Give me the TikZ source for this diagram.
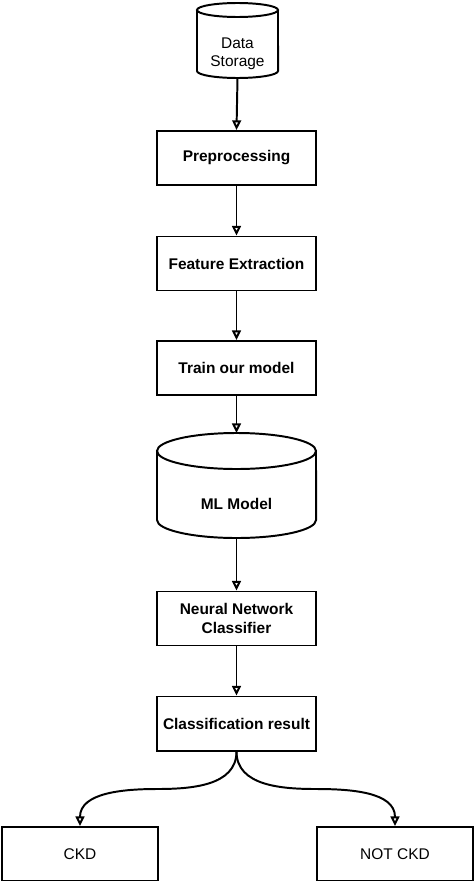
\documentclass[tikz,border=0pt]{standalone}
\usepackage{fontspec}
\setmainfont{Liberation Sans}
\usepackage{tikz}
\usetikzlibrary{arrows.meta,calc,positioning}
\tikzset{
  stp/.style={rectangle,draw=black,line width=1.4pt,minimum width=3.975cm,minimum height=1.35cm,
    inner sep=1pt,align=center,font=\fontsize{11}{13.5}\selectfont\bfseries},
  res/.style={rectangle,draw=black,line width=1.4pt,minimum width=3.9cm,minimum height=1.35cm,
    inner sep=1pt,align=center,font=\fontsize{11}{13.5}\selectfont},
  % a store is drawn by hand round an empty node that carries the label
  sto/.style={rectangle,draw=none,inner sep=0pt,align=center},
  cyl/.style={draw=black,line width=1.4pt},
  flw/.style={-{Triangle[open,length=2.4mm,width=2.2mm]},draw=black,line width=1.4pt},
}

\begin{document}
\begin{tikzpicture}[x=0.025cm,y=-0.025cm]
\useasboundingbox (0,0) rectangle (474,881);
% ============================= data storage
\node[sto,minimum width=2.025cm,minimum height=1.2cm,font=\fontsize{11}{12.8}\selectfont]
  (ds) at (237.5,54) {Data\\ Storage};
\draw[cyl] (237.5,10) ellipse[x radius=1.0125cm,y radius=0.175cm];
\draw[cyl] (197,10) -- (197,71) arc[start angle=180,end angle=360,x radius=1.0125cm,y radius=0.175cm]
  -- (278,10);
% ============================= steps
\node[stp] (pre) at (236.5,158) {Preprocessing};
\node[stp] (fe) at (236.5,263.5) {Feature Extraction};
\node[stp] (trn) at (236.5,368) {Train our model};
% ============================= ml model
\coordinate (mltop) at (236.5,433);
\node[sto,minimum width=3.975cm,minimum height=1.725cm,font=\fontsize{11}{13.5}\selectfont\bfseries]
  (ml) at (236.5,503.5) {ML Model};
\draw[cyl] (236.5,451) ellipse[x radius=1.9875cm,y radius=0.45cm];
\draw[cyl] (157,451) -- (157,520) arc[start angle=180,end angle=360,x radius=1.9875cm,y radius=0.45cm]
  -- (316,451);
\node[stp] (nn) at (236.5,618.5) {Neural Network\\ Classifier};
\node[stp] (cr) at (236.5,723.5) {Classification result};
% ============================= outcomes
\node[res] (ckd) at (80,854) {CKD};
\node[res] (nck) at (395,854) {NOT CKD};
% ============================= flow
\draw[flw] (ds.south) -- (pre.north);
\draw[flw] (pre) -- (fe);
\draw[flw] (fe) -- (trn);
\draw[flw] (trn.south) -- (mltop);
\draw[flw] (ml.south) -- (nn.north);
\draw[flw] (nn) -- (cr);
\coordinate (lft) at (157,789);
\coordinate (rgt) at (316,789);
\draw[flw] (cr.south) to[out=-90,in=0] (lft) to[out=180,in=90] (ckd.north);
\draw[flw] (cr.south) to[out=-90,in=180] (rgt) to[out=0,in=90] (nck.north);
\end{tikzpicture}
\end{document}
